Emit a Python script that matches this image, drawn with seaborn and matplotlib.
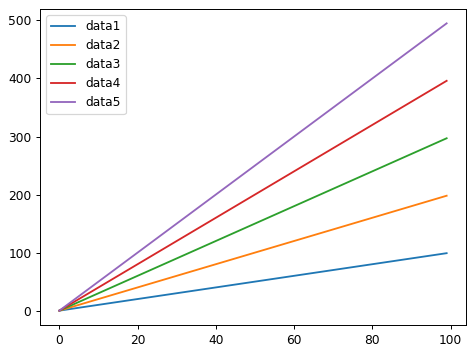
import matplotlib
matplotlib.use("Agg")
import matplotlib.pyplot as plt
import seaborn as sns
import pandas as pd

# endpoints of each straight line
x = [0, 99]
data1 = [0, 99]
data2 = [0, 198]
data3 = [0, 297]
data4 = [0, 396]
data5 = [0, 495]
names = ["data1", "data2", "data3", "data4", "data5"]

df = pd.DataFrame({
    "x": x * 5,
    "y": data1 + data2 + data3 + data4 + data5,
    "series": [n for n in names for _ in x],
})

dpi = 88
fig, ax = plt.subplots(figsize=(474 / dpi, 354 / dpi), dpi=dpi)
sns.lineplot(data=df, x="x", y="y", hue="series", ax=ax)
ax.set_xlabel("")
ax.set_ylabel("")
ax.set_xticks([0, 20, 40, 60, 80, 100])
ax.legend(loc="upper left")
fig.subplots_adjust(left=40 / 474, right=466 / 474, top=1 - 9 / 354, bottom=1 - 325 / 354)
fig.savefig("out.png", dpi=dpi)
